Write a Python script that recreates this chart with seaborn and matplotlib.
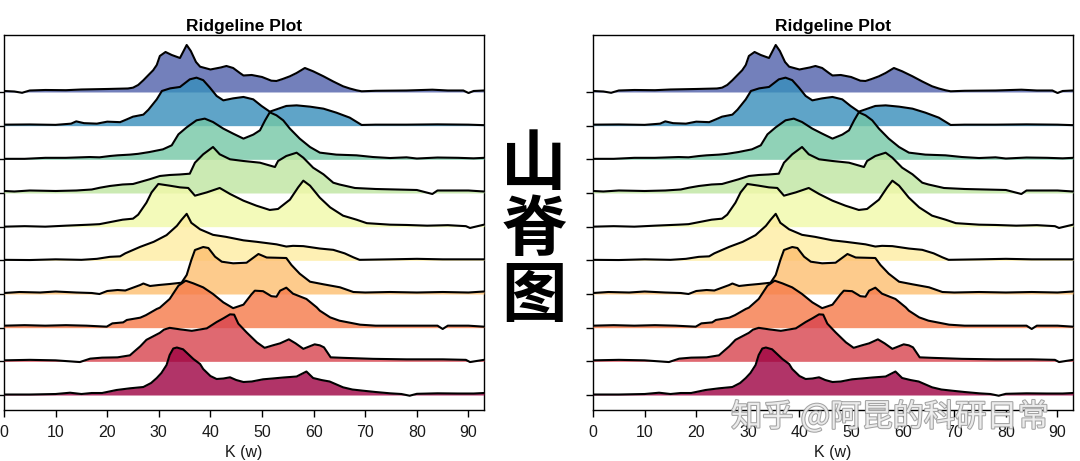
import numpy as np
import matplotlib
matplotlib.use('Agg')
import matplotlib.pyplot as plt
import matplotlib.patheffects as pe
import seaborn as sns

sns.set_theme(style='ticks')
plt.rcParams['font.family'] = ['Liberation Sans', 'Noto Sans CJK SC', 'DejaVu Sans']

# ------------------------------------------------------------
# ridge outlines: x = K (w), h = ridge height
# (top ridge first)
# ------------------------------------------------------------
r1_x = [0, 2, 3.5, 5, 8, 12, 15, 20, 24, 25, 26, 27, 28, 28.9, 29.6, 30.2, 31.3, 32.5, 34.1, 35.4,
        36.2, 37.2, 38, 40, 42, 43.1, 44.4, 45.7, 46.4, 48, 50, 51.8, 52.8, 54, 55.4, 56.7, 58.3, 59.9,
        61.9, 63.8, 65.7, 67, 68.3, 69.3, 72, 78, 83, 86, 89, 90, 91, 93]
r1_h = [1, 0.5, -0.8, 1.5, 2, 1.8, 2.5, 3, 3.5, 4.3, 7, 11.7, 17, 21.7, 27, 36, 40, 37, 34, 47,
        41, 30, 25.3, 22.5, 24.5, 26, 24, 19, 16.5, 17, 15, 11.3, 11, 13, 15.7, 19, 24, 20.7,
        15.7, 10.5, 5.7, 3.5, 1.7, 0.7, 1.2, 1.5, 2.3, 1.5, 1.5, -1, 1, 1.5]

r2_x = [0, 5, 10, 13, 14, 15.5, 18, 20, 22.5, 23.8, 25, 27, 28, 29.6, 30.6, 32.2, 34.1, 36, 37.3, 38.6,
        39.9, 41.2, 42.5, 44.4, 46.4, 48.3, 49.9, 51.5, 52.8, 54.7, 56.7, 59.3, 61.9, 64.4, 67, 69.3,
        72, 78, 84, 90, 93]
r2_h = [1, 1.2, 0.8, 2, 4.3, 2.5, 2, 4, 3.5, 6.3, 9, 11, 16, 26.3, 34.7, 37.3, 38.7, 46.3, 48, 45.5,
        38, 29.7, 25.3, 27.3, 28.7, 26.3, 19.7, 14, 16.3, 19.7, 20.3, 19, 17, 13, 8, 0.7,
        1, 1, 1.3, 1, 0.5]

r3_x = [0, 4, 8, 12, 16.6, 18.5, 20.5, 22, 24.4, 26, 28.2, 30.8, 32.5, 33.8, 35.4, 37.3, 38.9, 40.5,
        42.5, 44.4, 46.4, 48.3, 49.6, 50.6, 51.5, 52.8, 54.1, 55.4, 57.3, 59.3, 61.2, 64.4, 68.3, 71.5,
        74.8, 78, 80, 84, 88, 91, 93]
r3_h = [0.5, 0.5, 1.5, 1.5, 2.3, 2, 3.3, 4, 4.7, 5.5, 7.3, 10, 14, 25, 32, 39, 40.7, 37.3,
        30.7, 25.7, 20.7, 24.7, 29, 39, 47, 44, 39, 30.7, 20.7, 12.3, 6.7, 4.7, 4, 2.3,
        1.3, 2, 0.8, 1.8, 1.5, 1, 1.5]

r4_x = [0, 2, 5, 10, 14, 17, 18.6, 20.5, 23, 25, 28.2, 30.2, 32.1, 34, 36, 37, 38.6, 40.5, 41.8, 43.8,
        46.4, 49.6, 52.5, 53.1, 54.7, 56.7, 58, 59.9, 61.9, 63.8, 65, 68, 72, 76, 80, 83, 84, 90, 93]
r4_h = [2, 1.5, 2.5, 2, 2.5, 3.5, 5.3, 7, 8.5, 9, 13.7, 17, 18, 18.5, 19.3, 30.3, 38.7, 46, 38.7, 33.7,
        32, 30.3, 26, 32, 37, 40.3, 35.3, 25.3, 18.7, 10.3, 8.5, 5, 4, 3.5, 3, -1, 2.5, 2.5, 1.5]

r5_x = [0, 4, 8, 12, 16.6, 18.5, 20.5, 23, 25, 26, 27.6, 28.6, 29.9, 32.1, 34.1, 35.7, 37, 39.3, 41.8,
        43.8, 46.4, 48.9, 51.5, 53.1, 55.4, 57, 58, 59.3, 61.2, 63.2, 65.7, 68.3, 70.3, 74.8, 78, 82,
        86, 89.5, 90.3, 93]
r5_h = [0, 0.5, 0, 1, 2, 2.5, 4.5, 7, 8, 12, 24, 34.3, 42.7, 41, 39.3, 38.7, 31, 34.3, 38.7,
        32.7, 26, 21, 16.7, 17.7, 27, 39.3, 46, 41, 29, 19.3, 11, 7, 3.5, 2, 1.7, 1,
        1.5, 0.5, -1.3, 2]

r6_x = [0, 5, 10, 15, 18, 20.5, 22.5, 23.5, 26.4, 29, 31.5, 33.5, 34.4, 35.4, 36.3, 38, 40.5, 43,
        46.4, 49, 52.8, 54.7, 56, 58, 61.2, 63.8, 66, 67.7, 68.9, 74.8, 80, 85, 90, 93]
r6_h = [0.5, 0.3, 1, 0.5, 1.5, 3.5, 4, 7, 13.5, 18.5, 25.2, 34.5, 40.5, 46.5, 37.5, 31, 25.5, 23.5,
        20, 18.5, 16, 13.8, 14.5, 14.2, 11.8, 10.5, 7, 3, 0.5, 1, 1.5, 1, 1, 1]

r7_x = [0, 3, 7, 10, 14, 17, 18.5, 20, 22, 23.5, 26.4, 27, 28.3, 30, 32.1, 34.4, 35.4, 36.3, 37, 38.6,
        39.6, 40.9, 42.2, 44.4, 47, 49.3, 50.9, 54.7, 55.7, 57.3, 59.3, 61.9, 65.1, 67.7, 70, 74.8,
        80, 85, 90, 93]
r7_h = [1, 2, 1.5, 2.5, 1.5, 1, 0, 3, 4, 3.5, 9, 10.5, 8, 9, 10, 11.3, 19, 34, 44, 47,
        46, 37.3, 32.3, 30.7, 31.3, 40, 36.5, 36, 29, 20.3, 12.3, 9.7, 6.7, 2, 1.5, 2,
        1.5, 2, 1.5, 2.5]

r8_x = [0, 4, 8, 12, 16, 19.9, 21, 23.1, 23.8, 26.4, 27.5, 29.6, 30.2, 32.1, 33.8, 35.2, 36.7, 38.6,
        40.5, 42.5, 44.4, 46.4, 47.9, 48.6, 50.2, 51.8, 52.8, 53.5, 54.7, 56, 58.6, 60.6, 61.2, 63.2,
        65, 67, 69, 72, 78, 84, 85, 86, 90, 93]
r8_h = [2, 2.5, 2, 2.5, 2, 1, 4.3, 5.3, 7.7, 10, 12.5, 18.7, 20, 28.7, 42, 47, 44.3, 40.3,
        33.7, 25.3, 19.5, 23, 33, 37, 36.5, 31.5, 31, 37, 40, 34, 28.7, 20.3, 17, 10.3,
        7, 5, 3, 2, 2, 2, -1.3, 2, 2, 1]

r9_x = [0, 5, 10, 14.7, 16.7, 19, 22, 24.4, 25.5, 26.4, 27.6, 30.2, 31, 32.1, 34.1, 36.4, 39.3, 41.2,
        42.5, 43.8, 44.6, 45.4, 47, 47.6, 49, 50.5, 52.1, 53.5, 55.2, 56.5, 58, 60.2, 61.2, 62, 63.3,
        65.7, 71.5, 78, 85, 89.5, 90.3, 93]
r9_h = [1, 1.5, 1, -0.7, 2.7, 3.7, 4, 6, 11, 15, 21.5, 28.5, 31.7, 33.5, 32, 30.5, 33, 39.3,
        43, 47, 46.7, 37.7, 29, 26, 19, 13.5, 16, 18, 22, 18, 12.5, 17, 16, 14, 4,
        3.5, 2.5, 2, 2, 1.5, -0.7, 1.5]

r10_x = [0, 5, 10, 12.8, 15, 17, 19, 21.8, 24.4, 27, 28.5, 29.6, 30.5, 31.5, 32.1, 32.8, 33.5, 34.7,
         36.7, 38, 38.6, 40, 41.2, 42.5, 43.8, 45, 46.4, 48, 50.2, 52, 54.1, 56.7, 58.6, 59.9, 61.5,
         63.1, 65.7, 67.5, 69.6, 72, 74.8, 77, 78.6, 80, 84, 88, 91, 93]
r10_h = [0.5, 0.5, 1, 2.3, 1, 2, 2, 5, 6.7, 8, 12, 17, 22, 30, 40, 46.5, 47.5, 45.7,
         36, 31, 26, 19, 16, 16.5, 17.7, 15, 13, 13.5, 15.7, 16.5, 17.5, 18.5, 23.5, 17, 15,
         13.5, 7.7, 5.5, 4.3, 3, 1.7, 1, -0.7, 1.2, 1.7, 1.5, 1.5, 2]

ridges = [(r1_x, r1_h), (r2_x, r2_h), (r3_x, r3_h), (r4_x, r4_h), (r5_x, r5_h),
          (r6_x, r6_h), (r7_x, r7_h), (r8_x, r8_h), (r9_x, r9_h), (r10_x, r10_h)]
x_ticks = [0, 10, 20, 30, 40, 50, 60, 70, 80, 90]

# Spectral, blue on top; top ridge looks a bit bluer in the picture
colors = list(plt.cm.Spectral(np.linspace(1, 0, len(ridges))))
colors[0] = '#5060aa'
step = 33.67  # vertical gap between ridge baselines
n = len(ridges)

fig = plt.figure(figsize=(10.8, 4.61), dpi=100)

for left in [0.0037, 0.5491]:
    ax = fig.add_axes([left, 0.1106, 0.4444, 0.8135])
    bases = []
    for i, (x, h) in enumerate(ridges):
        base = (n - 1 - i) * step
        bases.append(base)
        y = np.array(h) + base
        ax.fill_between(x, base, y, color=colors[i], alpha=0.8, lw=0, zorder=2 * i + 1)
        sns.lineplot(x=x, y=y, ax=ax, color='black', lw=1.5, sort=False,
                     estimator=None, zorder=2 * i + 2)

    ax.set_xlim(0, 93)
    ax.set_ylim(-15, (n - 1) * step + 57)
    ax.set_xticks(x_ticks)
    ax.set_yticks(sorted(bases))
    ax.set_yticklabels([])
    ax.tick_params(axis='both', direction='out', length=5, width=1, color='black',
                   labelsize=11.5, labelcolor='#1a1a1a', pad=5.5)
    for sp in ax.spines.values():
        sp.set_color('black')
        sp.set_linewidth(1)
    ax.set_title('Ridgeline Plot', fontsize=12.5, fontweight='bold', pad=3, color='black')
    ax.set_xlabel('K (w)', fontsize=11.5, labelpad=4, color='#1a1a1a')
    ax.set_ylabel('')

# big title in the middle
fig.text(0.4944, 0.5, '山\n脊\n图', family=['Noto Sans CJK SC'], fontsize=47,
         fontweight='black', ha='center', va='center', linespacing=0.98, color='black')

# watermark
fig.text(0.824, 0.095, '知乎 @阿昆的科研日常', family=['Noto Sans CJK SC', 'DejaVu Sans'],
         fontsize=22.5, ha='center', va='center', color='#f2f2f2', alpha=0.9, zorder=50,
         path_effects=[pe.withStroke(linewidth=1.5, foreground='#9a9a9a')])

fig.savefig('out.png', dpi=100)
